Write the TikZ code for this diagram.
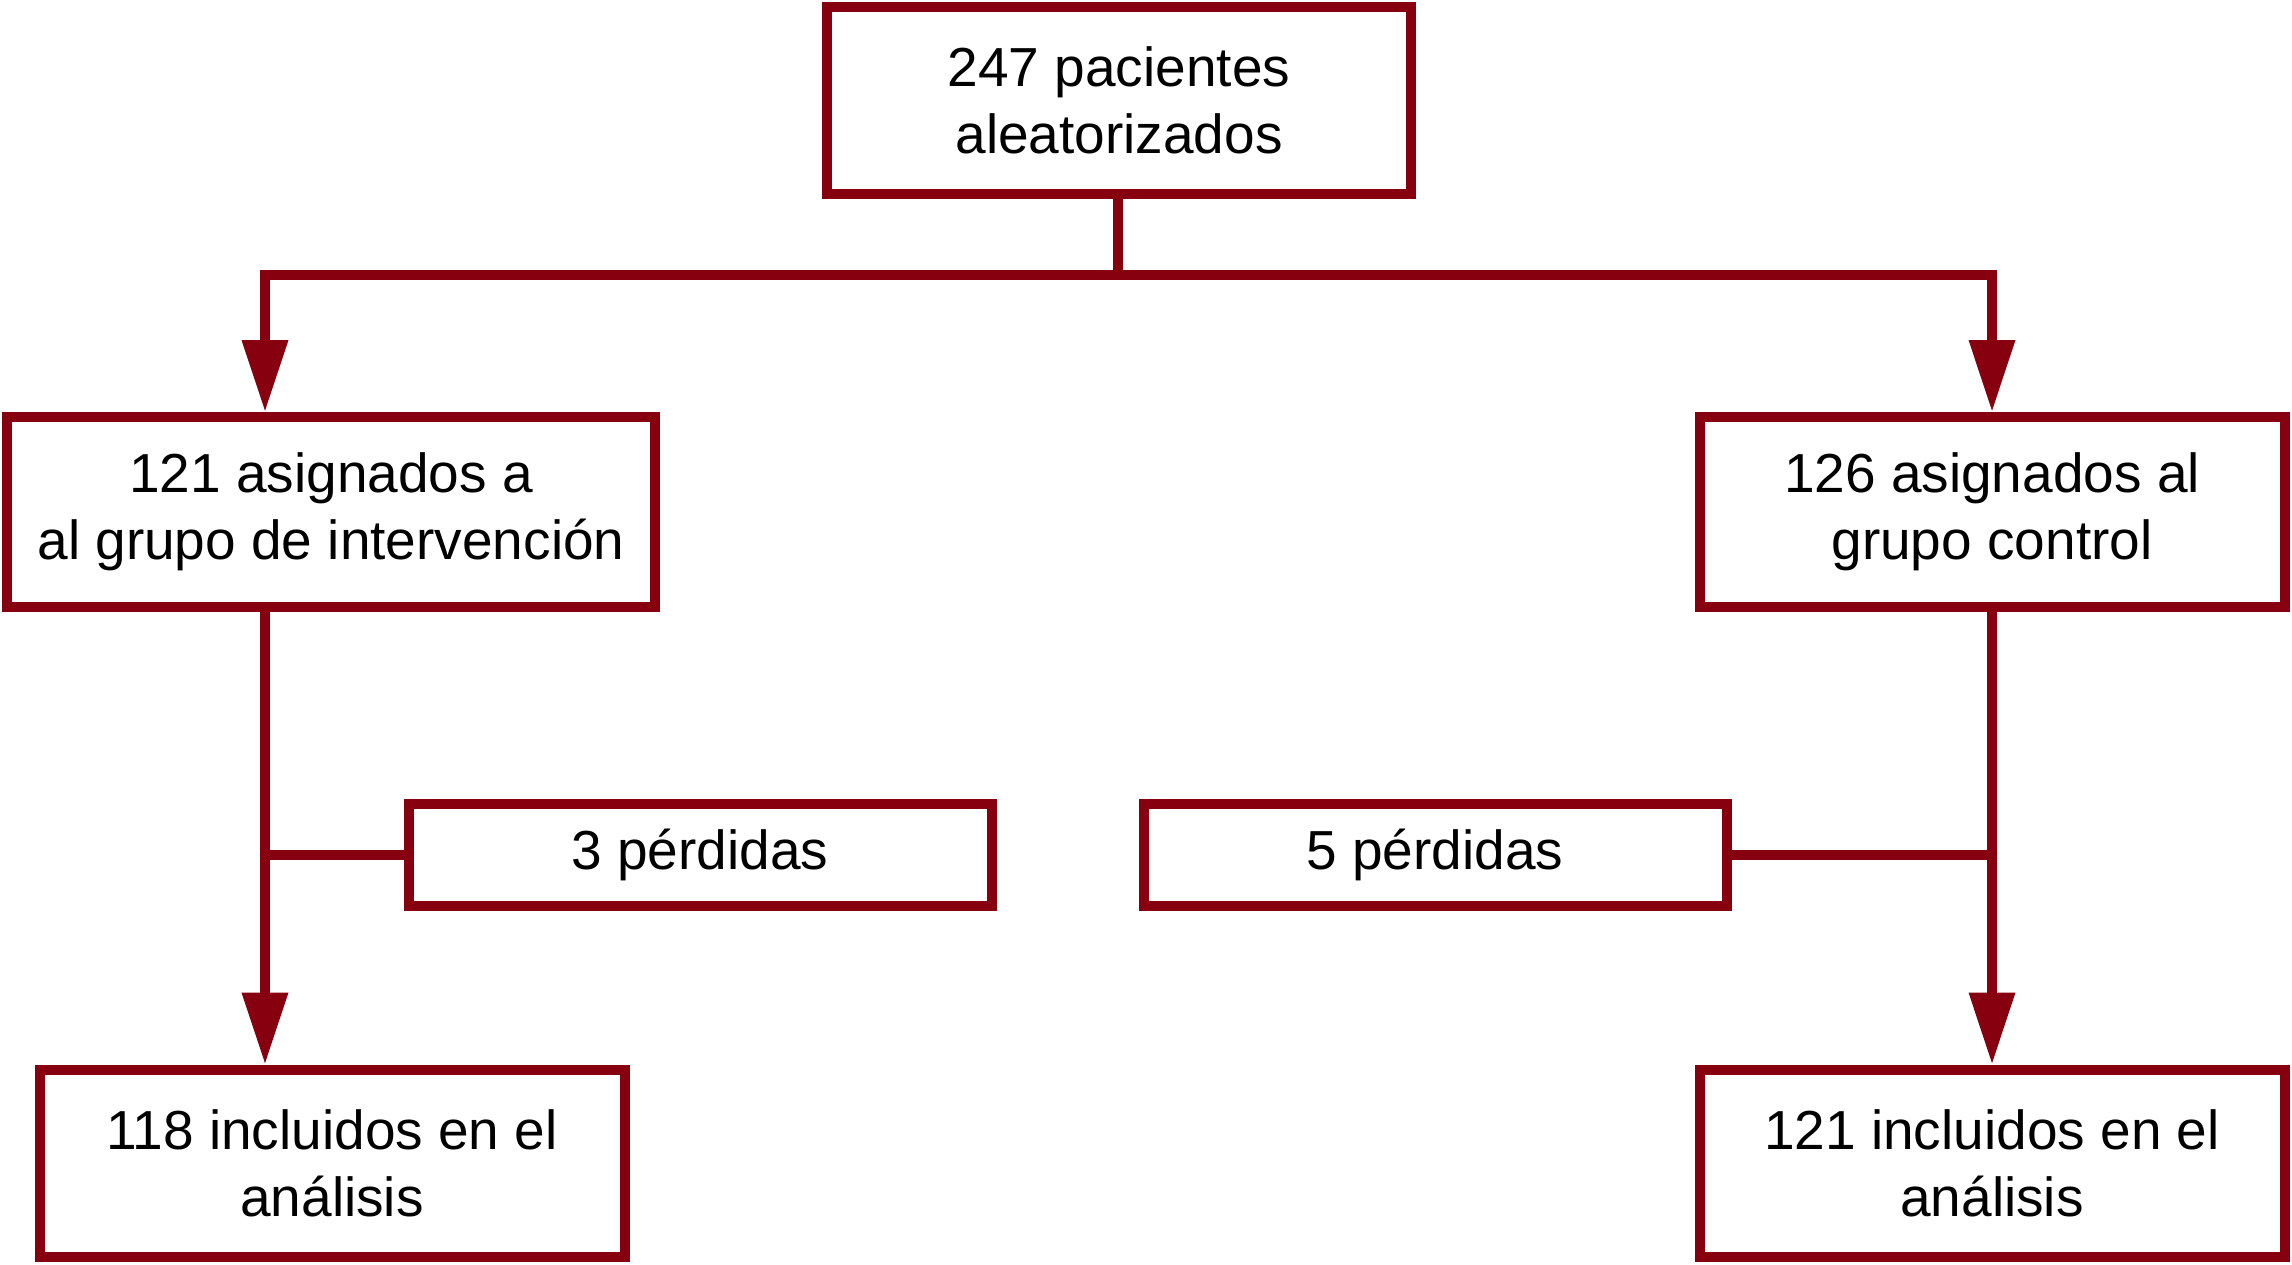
\documentclass[tikz,border=0pt]{standalone}
\usepackage{fontspec}
\setmainfont{Liberation Sans}
\usetikzlibrary{arrows.meta}
\definecolor{dred}{RGB}{134,0,16}
\begin{document}
\begin{tikzpicture}[x=1pt,y=-1pt,
  box/.style={draw=dred, line width=10pt, fill=white, align=center, inner sep=0pt,
    font=\fontsize{55}{67}\selectfont, text=black},
  conn/.style={draw=dred, line width=10pt},
  arr/.style={conn, -{Triangle[length=72pt,width=44pt]}}]
\useasboundingbox (0,0) rectangle (2292,1264);
\node[box, minimum width=584pt, minimum height=187pt] (top) at (1119,100) {247 pacientes\\aleatorizados};
\node[box, minimum width=648pt, minimum height=190pt] (lmid) at (331,512) {121 asignados a\\al grupo de intervención};
\node[box, minimum width=585pt, minimum height=190pt] (rmid) at (1992,512) {126 asignados al\\grupo control};
\node[box, minimum width=583pt, minimum height=102pt] (loss1) at (700,855) {3 pérdidas};
\node[box, minimum width=583pt, minimum height=102pt] (loss2) at (1435,855) {5 pérdidas};
\node[box, minimum width=585pt, minimum height=187pt] (lbot) at (332,1163) {118 incluidos en el\\análisis};
\node[box, minimum width=585pt, minimum height=187pt] (rbot) at (1992,1163) {121 incluidos en el\\análisis};
\coordinate (split) at (1118,275);
\coordinate (ltop) at (265,275);
\draw[conn] (top.south -| split) -- (split);
\draw[arr] (split) -- (ltop) -- (ltop |- lmid.north);
\draw[arr] (split) -| (rmid.north);
\draw[arr] (lmid.south -| ltop) -- (lbot.north -| ltop);
\draw[conn] (ltop |- loss1.west) -- (loss1.west);
\draw[arr] (rmid.south) -- (rbot.north);
\draw[conn] (loss2.east) -- (rmid.south |- loss2.east);
\end{tikzpicture}
\end{document}
